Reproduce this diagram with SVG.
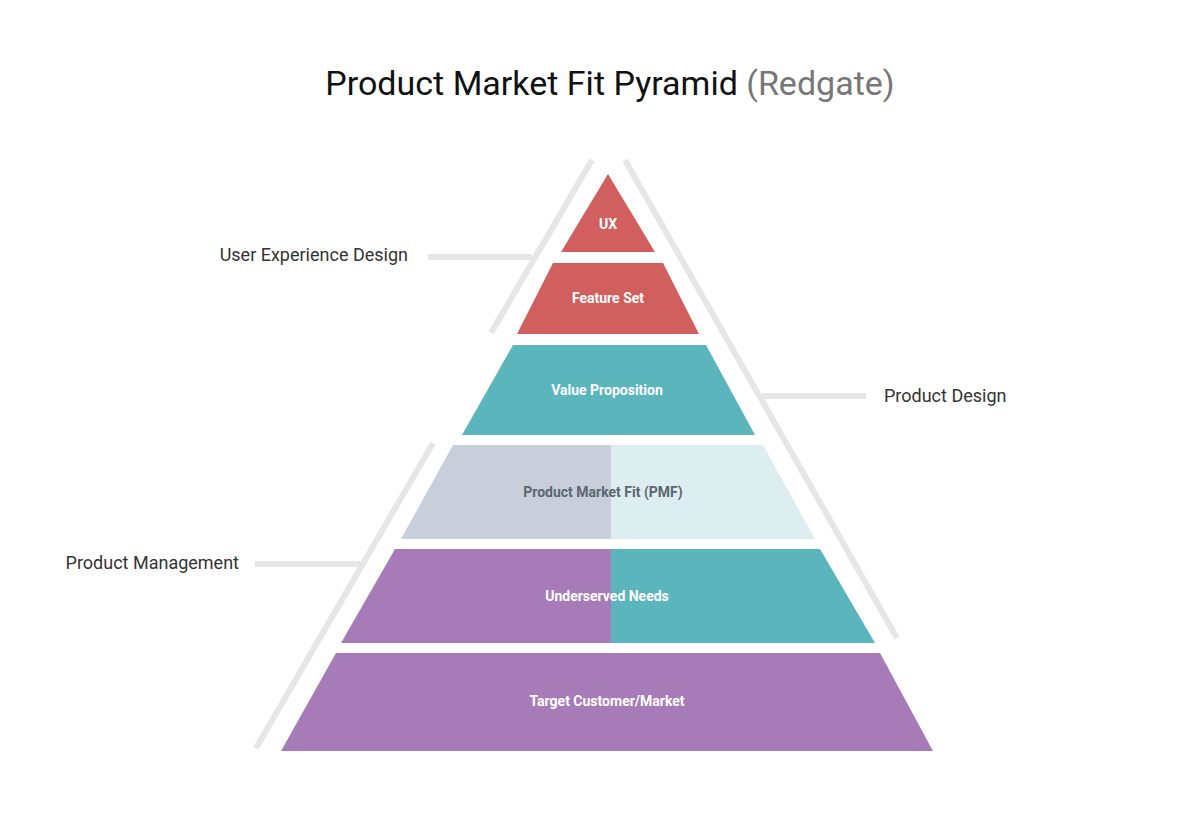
<svg xmlns="http://www.w3.org/2000/svg" width="1200" height="833" viewBox="0 0 1200 833">
<style>
.t{font-family:Roboto,"Liberation Sans",sans-serif;font-size:14px;font-weight:bold;fill:#fff;text-anchor:middle}
.lbl{font-family:Roboto,"Liberation Sans",sans-serif;font-size:18px;fill:#333}
.gl{stroke:#e6e6e6;stroke-width:6;fill:none}
</style>
<rect width="1200" height="833" fill="#fff"/>
<text x="610" y="95" font-family="Roboto,'Liberation Sans',sans-serif" font-size="34" text-anchor="middle" fill="#111">Product Market Fit Pyramid <tspan fill="#777">(Redgate)</tspan></text>
<g id="connectors">
<line class="gl" x1="592" y1="160" x2="491" y2="333"/>
<line class="gl" x1="625" y1="160" x2="897" y2="638"/>
<line class="gl" x1="433" y1="443" x2="256" y2="748"/>
<line class="gl" x1="428" y1="257" x2="532" y2="257"/>
<line class="gl" x1="762" y1="396" x2="866" y2="396"/>
<line class="gl" x1="255" y1="564" x2="360" y2="564"/>
</g>
<g id="label-ux-design"><text class="lbl" x="408" y="261" text-anchor="end">User Experience Design</text></g>
<g id="label-product-design"><text class="lbl" x="884" y="402">Product Design</text></g>
<g id="label-product-mgmt"><text class="lbl" x="239" y="569" text-anchor="end">Product Management</text></g>
<g id="ux"><polygon points="608,174 655,252 561,252" fill="#D05F5E"/><text class="t" x="608" y="229">UX</text></g>
<g id="feature-set"><polygon points="553,263 663,263 699,334 517,334" fill="#D05F5E"/><text class="t" x="608" y="303">Feature Set</text></g>
<g id="value-prop"><polygon points="513,345 706,345 755,435 462,435" fill="#5BB5BC"/><text class="t" x="607" y="395">Value Proposition</text></g>
<g id="pmf"><polygon points="453,445 611,445 611,539 401,539" fill="#C8CFDB"/><polygon points="611,445 763,445 815,539 611,539" fill="#DDEEF0"/><text class="t" x="603" y="497" fill="#5B6670" style="fill:#5B6670">Product Market Fit (PMF)</text></g>
<g id="underserved"><polygon points="395,549 611,549 611,643 341,643" fill="#A77BB7"/><polygon points="611,549 820,549 875,643 611,643" fill="#5BB5BC"/><text class="t" x="607" y="601">Underserved Needs</text></g>
<g id="target"><polygon points="336,653 880,653 933,751 281,751" fill="#A77BB7"/><text class="t" x="607" y="706">Target Customer/Market</text></g>
</svg>
